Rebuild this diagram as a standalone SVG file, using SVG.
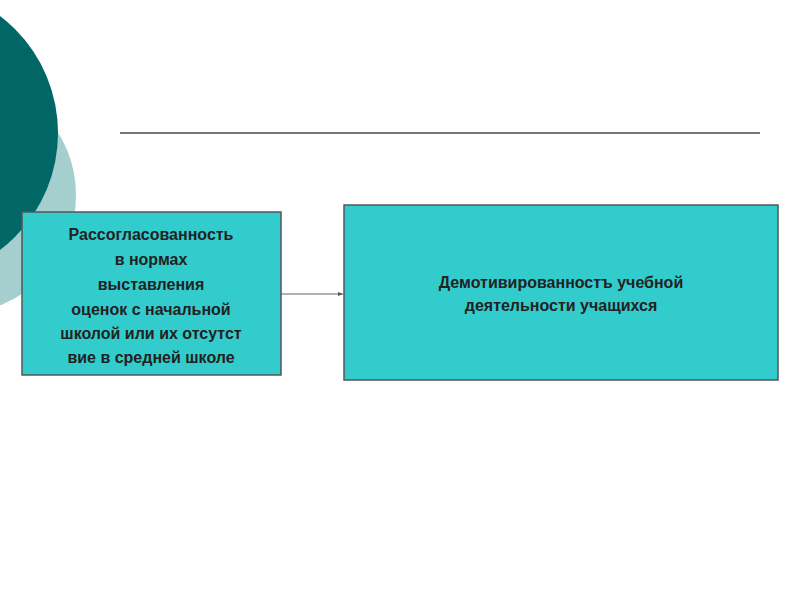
<svg xmlns="http://www.w3.org/2000/svg" width="800" height="600" viewBox="0 0 800 600">
<style>
.box{fill:#33cccc;stroke:#555;stroke-width:1.5}
.t{font-family:"Liberation Sans",Arial,sans-serif;font-weight:bold;font-size:16px;fill:#222;text-anchor:middle}
</style>
<defs><marker id="a" markerWidth="6" markerHeight="6" refX="5" refY="3" orient="auto"><path d="M0,1 L5,3 L0,5z" fill="#555"/></marker></defs>
<rect width="800" height="600" fill="#fff"/>
<circle cx="-42" cy="195" r="118" fill="#a5cfcf"/>
<circle cx="-89" cy="133" r="147" fill="#006666"/>
<line x1="120" y1="133" x2="760" y2="133" stroke="#777" stroke-width="2"/>
<g id="connectors"><line x1="281" y1="294" x2="343" y2="294" stroke="#666" stroke-width="1" marker-end="url(#a)"/></g>
<g id="n1"><rect class="box" x="22" y="212" width="259" height="163"/>
<text class="t" x="151" y="240">Рассогласованность</text>
<text class="t" x="151" y="265">в нормах</text>
<text class="t" x="151" y="290">выставления</text>
<text class="t" x="151" y="315">оценок с начальной</text>
<text class="t" x="151" y="339">школой или их отсутст</text>
<text class="t" x="151" y="363">вие в средней школе</text></g>
<g id="n2"><rect class="box" x="344" y="205" width="434" height="175"/>
<text class="t" x="561" y="288">Демотивированностъ учебной</text>
<text class="t" x="561" y="311">деятельности учащихся</text></g>
</svg>
